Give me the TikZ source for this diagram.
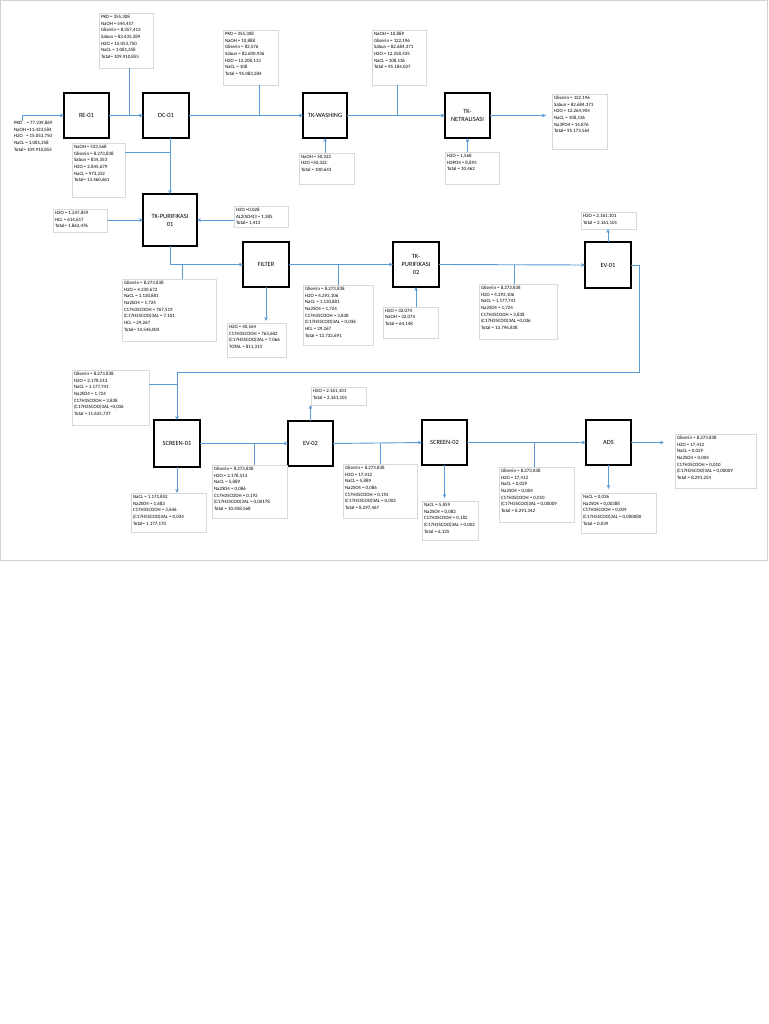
\documentclass[tikz,border=0pt]{standalone}
\usepackage{fontspec}
\setmainfont{Carlito}
\usetikzlibrary{arrows.meta}
\definecolor{flowblue}{HTML}{5B9BD5}
\definecolor{boxgray}{HTML}{D9D9D9}
\newcommand\ftx[3]{\parbox[t][#2pt][t]{#1pt}{\raggedright #3}}
\begin{document}
\begin{tikzpicture}[x=1pt,y=-1pt,
  proc/.style={draw=black, line width=1.1pt, fill=white, anchor=north west, inner sep=0pt, outer sep=0pt, align=center, font=\fontsize{6.4}{8}\selectfont},
  stm/.style={draw=boxgray, line width=0.6pt, fill=white, anchor=north west, inner xsep=2pt, inner ysep=2pt, outer sep=0pt, font=\fontsize{4.9}{6.7}\selectfont},
  flow/.style={draw=flowblue, line width=0.9pt, -{Stealth[length=4pt,width=3.6pt]}},
  ln/.style={draw=flowblue, line width=0.9pt}]
\useasboundingbox (0,0) rectangle (768,1024);
\fill[white] (0,0) rectangle (768,1024);
\draw[gray!35, line width=1pt] (0.5,0.5) rectangle (767.5,560.5);

% process units
\node[proc, minimum width=45pt, minimum height=45pt] (re01) at (64,93) {RE-01};
\node[proc, minimum width=46pt, minimum height=45pt] (dc01) at (143,93) {DC-01};
\node[proc, minimum width=44pt, minimum height=45pt] (tkw) at (303,93) {TK-WASHING};
\node[proc, minimum width=45pt, minimum height=45pt] (tkn) at (445,93) {TK-\\NETRALISASI};
\node[proc, minimum width=54pt, minimum height=52pt] (tkp1) at (143,194) {TK-PURIFIKASI\\01};
\node[proc, minimum width=46pt, minimum height=45pt] (filt) at (243,242) {FILTER};
\node[proc, minimum width=46pt, minimum height=45pt] (tkp2) at (393,242) {TK-\\PURIFIKASI\\02};
\node[proc, minimum width=46pt, minimum height=46pt] (ev01) at (585,242) {EV-01};
\node[proc, minimum width=46pt, minimum height=47pt] (scr1) at (154,420) {SCREEN-01};
\node[proc, minimum width=45pt, minimum height=45pt] (ev02) at (288,421) {EV-02};
\node[proc, minimum width=45pt, minimum height=45pt] (scr2) at (422,420) {SCREEN-02};
\node[proc, minimum width=45pt, minimum height=45pt] (ads) at (586,420) {ADS};

% stream tables
\node[stm, draw=none, fill=none] (sfeed) at (12,119) {\ftx{60}{34}{PKO~~~ = 77.239,869\\NaOH =11.433,584\\H2O~~ = 15.053,750\\NaCL = 1.081,358\\Total= 109.910,855}};
\node[stm] (s1) at (99,13) {\ftx{50}{51}{PKO = 355,308\\NaOH = 544,457\\Gliserin = 8.357,413\\Sabun = 83.435,289\\H2O = 15.053,750\\NaCL = 1.081,358\\Total= 109.910,855}};
\node[stm] (s2) at (72,143) {\ftx{49}{50}{NaOH = 533,568\\Gliserin = 8.273,838\\Sabun = 834,353\\H2O = 2.845,679\\NaCL = 973,222\\Total= 13.460,661}};
\node[stm] (s3) at (223,30) {\ftx{51}{51}{PKO = 355,308\\NaOH = 10,888\\Gliserin = 83,576\\Sabun = 82.600,936\\H2O = 12.208,113\\NaCL = 108\\Total = 95.083,284}};
\node[stm] (s4) at (299,153) {\ftx{51}{27}{NaOH = 50,322\\H2O =50,322\\Total = 100,643}};
\node[stm] (s5) at (372,30) {\ftx{50}{51}{NaOH = 10,889\\Gliserin = 122,196\\Sabun = 82.684,371\\H2O = 12.258,435\\NaCL = 108,136\\Total = 95.184,027}};
\node[stm] (s6) at (445,152) {\ftx{50}{28}{H2O = 1,568\\H3PO4 = 8,893\\Total = 10,462}};
\node[stm] (s7) at (552,94) {\ftx{51}{51}{Gliserin = 122,196\\Sabun = 82.684,371\\H2O = 12.264,904\\NaCL = 108,136\\Na3PO4 = 14,876\\Total= 95.173,564}};
\node[stm] (s8) at (53,209) {\ftx{50}{19}{H2O = 1.247,859\\HCL = 614,617\\Total= 1.862,476}};
\node[stm] (s9) at (234,206) {\ftx{50}{17}{H2O =0,028\\AL2(SO4)3 = 1,385\\Total= 1,413}};
\node[stm] (s10) at (122,279) {\ftx{90}{58}{Gliserin = 8.273,838\\H2O = 4.330,672\\NaCL = 1.130,881\\Na2SO4 = 1,724\\C17H35COOH = 767,519\\(C17H35COO)3AL = 7,101\\HCL = 29,267\\Total= 14.546,004}};
\node[stm] (s11) at (227,323) {\ftx{55}{30}{H2O = 40,564\\C17H35COOH = 763,682\\(C17H35COO)3AL = 7,066\\TOTAL = 811,313}};
\node[stm] (s12) at (303,285) {\ftx{66}{56}{Gliserin = 8.273,838\\H2O = 4.293,106\\NaCL = 1.130,881\\Na2SO4 = 1,724\\C17H35COOH = 3,838\\(C17H35COO)3AL = 0,036\\HCL = 29,267\\Total = 13.732,691}};
\node[stm] (s13) at (383,307) {\ftx{51}{27}{H2O = 32,074\\NaOH = 32,074\\Total = 64,148}};
\node[stm] (s14) at (479,284) {\ftx{74}{51}{Gliserin = 8.273,838\\H2O = 4.293,106\\NaCL = 1.177,741\\Na2SO4 = 1,724\\C17H35COOH = 3,838\\(C17H35COO)3AL =0,036\\Total = 13.796,838}};
\node[stm] (s15) at (581,212) {\ftx{51}{13}{H2O = 2.161,101\\Total = 2.161,101}};
\node[stm] (s16) at (72,370) {\ftx{73}{51}{Gliserin = 8.273,838\\H2O = 2.178,513\\NaCL = 1.177,741\\Na2SO4 = 1,724\\C17H35COOH = 3,838\\(C17H35COO)3AL =0,036\\Total = 11.635,737}};
\node[stm] (s17) at (131,493) {\ftx{71}{35}{NaCL = 1.171,852\\Na2SO4 = 1,683\\C17H35COOH = 3,646\\(C17H35COO)3AL = 0,034\\Total= 1.177,170}};
\node[stm] (s18) at (212,465) {\ftx{71}{49}{Gliserin = 8.273,838\\H2O = 2.178,513\\NaCL = 5,889\\Na2SO4 = 0,086\\C17H35COOH = 0,192\\(C17H35COO)3AL = 0,00178\\Total = 10.458,568}};
\node[stm] (s19) at (311,387) {\ftx{51}{14}{H2O = 2.161,101\\Total = 2.161,101}};
\node[stm] (s20) at (343,464) {\ftx{70}{50}{Gliserin = 8.273,838\\H2O = 17,412\\NaCL = 5,889\\Na2SO4 = 0,086\\C17H35COOH = 0,192\\(C17H35COO)3AL = 0,002\\Total = 8.297,467}};
\node[stm] (s21) at (422,501) {\ftx{52}{35}{NaCL = 5,859\\Na2SO4 = 0,082\\C17H35COOH = 0,182\\(C17H35COO)3AL = 0,002\\Total = 6,125}};
\node[stm] (s22) at (499,467) {\ftx{71}{51}{Gliserin = 8.273,838\\H2O = 17,412\\NaCL = 0,029\\Na2SO4 = 0,004\\C17H35COOH = 0,010\\(C17H35COO)3AL = 0,00009\\Total = 8.291,342}};
\node[stm] (s23) at (581,493) {\ftx{71}{36}{NaCL = 0,036\\Na2SO4 = 0,00388\\C17H35COOH = 0,009\\(C17H35COO)3AL = 0,000080\\Total = 0,039}};
\node[stm] (s24) at (675,434) {\ftx{77}{50}{Gliserin = 8.273,838\\H2O = 17,412\\NaCL = 0,029\\Na2SO4 = 0,004\\C17H35COOH = 0,010\\(C17H35COO)3AL = 0,00009\\Total = 8.291,254}};

% junction and free-end coordinates
\coordinate (f0) at (22,121);
\coordinate (j1) at (129,115.5);
\coordinate (j2) at (170,152);
\coordinate (j3) at (259,115.5);
\coordinate (j4) at (397,115.5);
\coordinate (p1) at (546,115.5);
\coordinate (j5) at (182,264.5);
\coordinate (j6) at (338,264.5);
\coordinate (j7) at (514,264.5);
\coordinate (r1) at (639,372);
\coordinate (j8) at (177,384);
\coordinate (j9) at (254,443.5);
\coordinate (j10) at (380,443);
\coordinate (j11) at (534,442.5);
\coordinate (p2) at (664,442.5);

% row 1
\draw[flow] (f0) |- (re01.west);
\draw[flow] (re01.east) -- (dc01.west);
\draw[ln] (j1 |- s1.south) -- (j1);
\draw[flow] (tkp1.north |- dc01.south) -- (tkp1.north);
\draw[ln] (s2.east |- j2) -- (j2);
\draw[flow] (dc01.east) -- (tkw.west);
\draw[ln] (j3 |- s3.south) -- (j3);
\draw[flow] (tkw.south |- s4.north) -- (tkw.south);
\draw[flow] (tkw.east) -- (tkn.west);
\draw[ln] (j4 |- s5.south) -- (j4);
\draw[flow] (tkn.south |- s6.north) -- (tkn.south);
\draw[flow] (tkn.east) -- (p1);

% row 2
\draw[flow] (s8.east |- tkp1.west) -- (tkp1.west);
\draw[flow] (s9.west |- tkp1.east) -- (tkp1.east);
\draw[flow] (tkp1.south) |- (filt.west);
\draw[ln] (j5) -- (j5 |- s10.north);
\draw[flow, shorten >=2pt] (filt.south) -- (filt.south |- s11.north);
\draw[flow] (filt.east) -- (tkp2.west);
\draw[ln] (j6) -- (j6 |- s12.north);
\draw[flow] (tkp2.south |- s13.north) -- (tkp2.south);
\draw[flow] (tkp2.east) -- (ev01.west);
\draw[ln] (j7) -- (j7 |- s14.north);
\draw[flow] (ev01.north) -- (ev01.north |- s15.south);
\draw[flow] (ev01.east) -| (r1) -| (scr1.north);
\draw[ln] (s16.east |- j8) -- (j8);

% row 3
\draw[flow] (scr1.south) -- (scr1.south |- s17.north);
\draw[flow] (scr1.east) -- (ev02.west);
\draw[ln] (j9) -- (j9 |- s18.north);
\draw[flow] (ev02.north) -- (ev02.north |- s19.south);
\draw[flow] (ev02.east) -- (scr2.west);
\draw[ln] (j10) -- (j10 |- s20.north);
\draw[flow, shorten >=3pt] (scr2.south) -- (scr2.south |- s21.north);
\draw[flow] (scr2.east) -- (ads.west);
\draw[ln] (j11) -- (j11 |- s22.north);
\draw[flow, shorten >=4pt] (ads.south) -- (ads.south |- s23.north);
\draw[flow] (ads.east) -- (p2);
\end{tikzpicture}
\end{document}
